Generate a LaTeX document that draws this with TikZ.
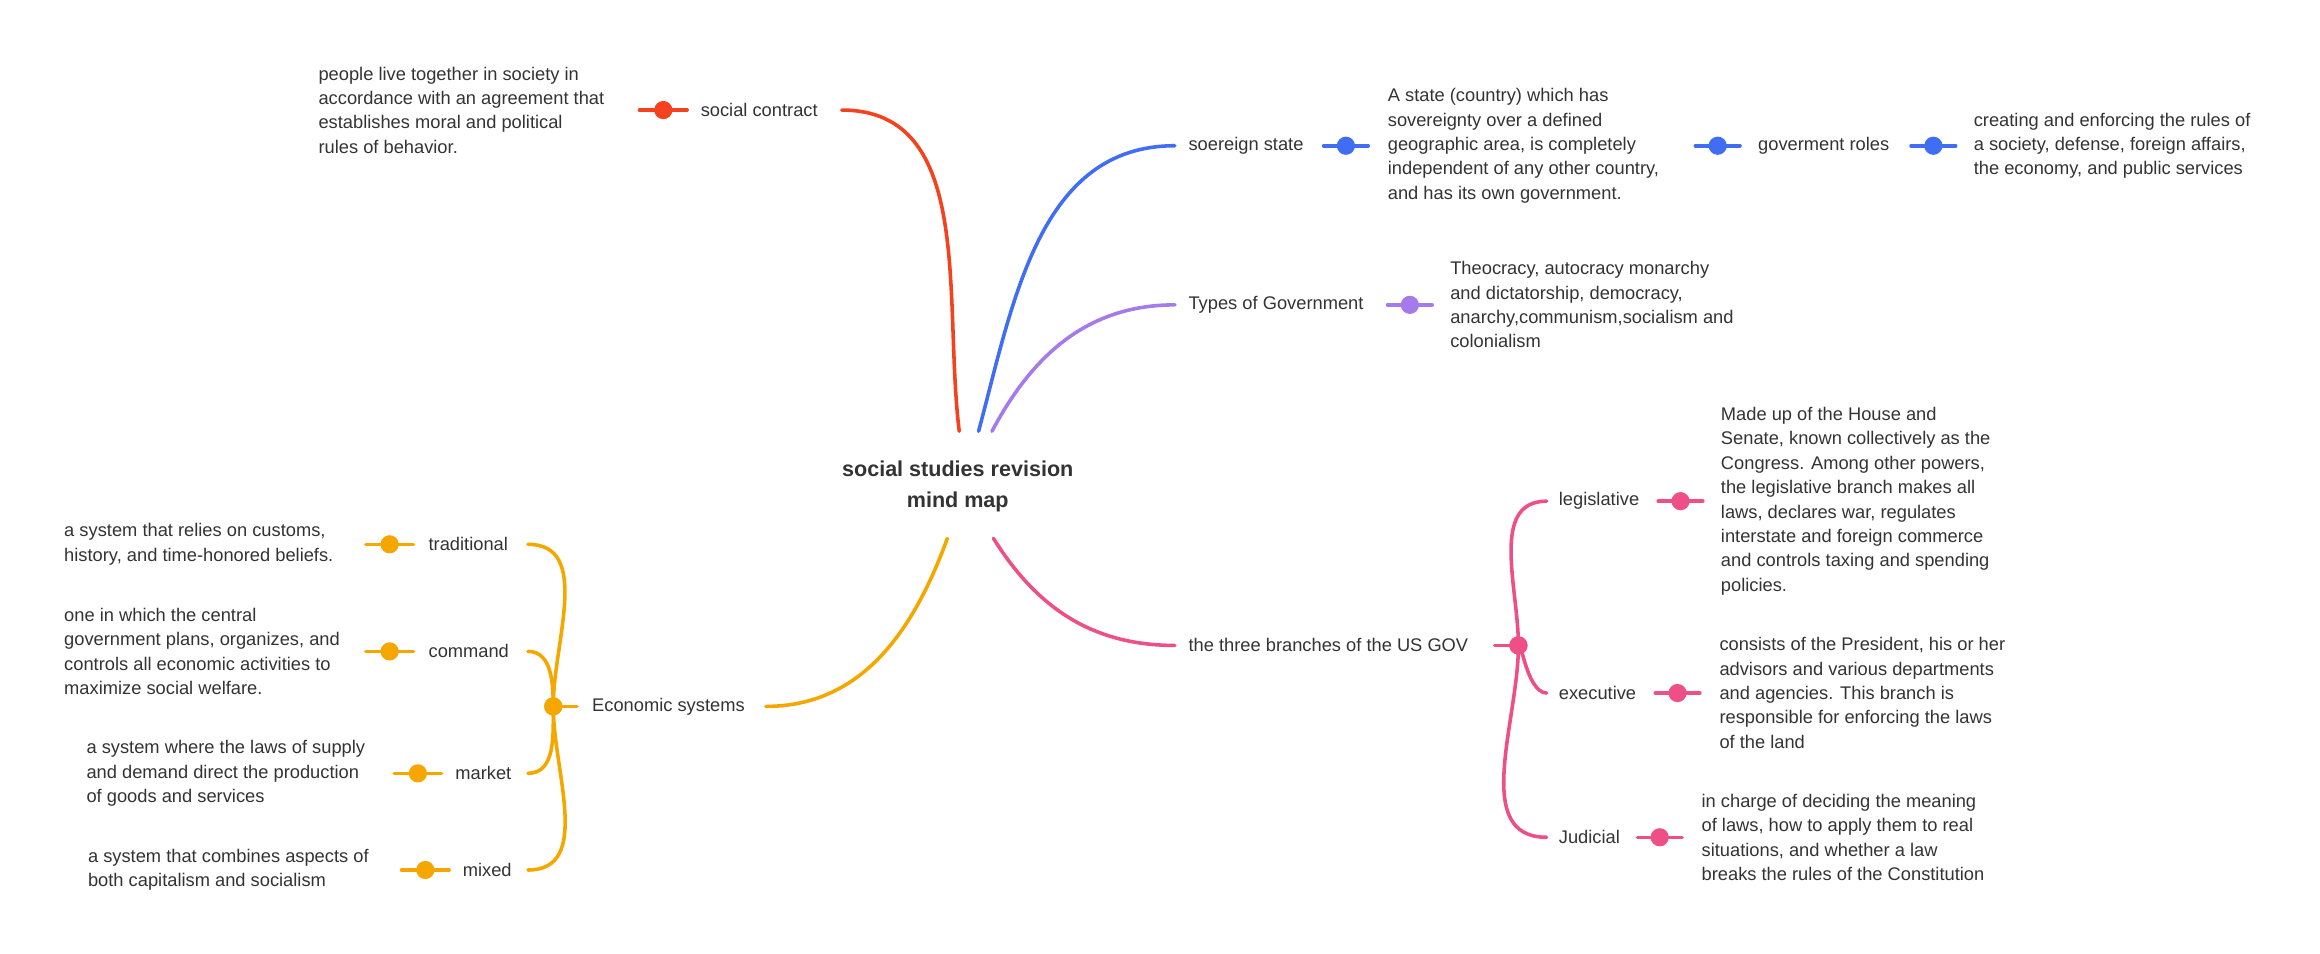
\documentclass[tikz,border=0pt]{standalone}
\usepackage{fontspec}
\setmainfont{Liberation Sans}
\definecolor{cred}{HTML}{F4421E}
\definecolor{cblue}{HTML}{3F6DF4}
\definecolor{cpurp}{HTML}{A57AEA}
\definecolor{cpink}{HTML}{EE4F87}
\definecolor{corg}{HTML}{F5A700}
\definecolor{ctxt}{HTML}{333333}
\begin{document}
\begin{tikzpicture}[x=1pt,y=1pt,
  every node/.style={text=ctxt,font=\fontsize{12.3}{16.4}\selectfont,inner sep=0pt},
  lab/.style={anchor=west},
  desc/.style={align=left},
  br/.style={line width=2.4pt,line cap=round},
  dot/.style={circle,draw,line width=2.2pt,fill=white,minimum size=10pt,inner sep=0pt}]
\path[use as bounding box] (0,0) rectangle (1560,641);
\node[font=\bfseries\fontsize{14.5}{21}\selectfont,align=center] (c) at (644,314) {social studies revision\\mind map};
% social contract
\coordinate (s1) at (645,351);
\node[lab] (sc) at (471,567) {social contract};
\coordinate (e1) at (566,567);
\draw[br,cred] (s1) to[out=97,in=0] (e1);
\coordinate (l1a) at (430,567); \coordinate (l1b) at (462,567);
\draw[br,cred] (l1a)--(l1b);
\node[dot,cred] (d1) at (446,567) {};
\node[desc,anchor=west] (t1) at (214,567) {people live together in society in\\accordance with an agreement that\\establishes moral and political\\rules of behavior.};
% sovereign
\coordinate (s2) at (658,351);
\coordinate (e2) at (790,543);
\node[lab] (ss) at (799,543) {soereign state};
\draw[br,cblue] (s2) to[out=75,in=180] (e2);
\coordinate (l2a) at (890,543); \coordinate (l2b) at (920,543);
\draw[br,cblue] (l2a)--(l2b);
\node[dot,cblue] (d2) at (905,543) {};
\node[desc,anchor=west] (t2) at (933,543) {A state (country) which has\\sovereignty over a defined\\geographic area, is completely\\independent of any other country,\\and has its own government.};
\coordinate (l3a) at (1140,543); \coordinate (l3b) at (1170,543);
\draw[br,cblue] (l3a)--(l3b);
\node[dot,cblue] (d3) at (1155,543) {};
\node[lab] (gr) at (1182,543) {goverment roles};
\coordinate (l4a) at (1285,543); \coordinate (l4b) at (1315,543);
\draw[br,cblue] (l4a)--(l4b);
\node[dot,cblue] (d4) at (1300,543) {};
\node[desc,anchor=west] (t4) at (1327,543) {creating and enforcing the rules of\\a society, defense, foreign affairs,\\the economy, and public services};
% types
\coordinate (s3) at (667,351);
\coordinate (e3) at (790,436);
\node[lab] (tg) at (799,436) {Types of Government};
\draw[br,cpurp] (s3) to[out=62,in=180] (e3);
\coordinate (l5a) at (933,436); \coordinate (l5b) at (963,436);
\draw[br,cpurp] (l5a)--(l5b);
\node[dot,cpurp] (d5) at (948,436) {};
\node[desc,anchor=west] (t5) at (975,436) {Theocracy, autocracy monarchy\\and dictatorship, democracy,\\anarchy,communism,socialism and\\colonialism};
% branches
\coordinate (s4) at (668,279);
\coordinate (e4) at (790,207);
\node[lab] (tb) at (799,207) {the three branches of the US GOV};
\draw[br,cpink] (s4) to[out=-58,in=180] (e4);
\coordinate (l6a) at (1005,207);
\node[dot,cpink] (d6) at (1021,207) {};
\draw[br,cpink] (l6a)--(d6.west);
\coordinate (g1) at (1040,304); \coordinate (g2) at (1040,175); \coordinate (g3) at (1040,78);
\draw[br,cpink] (d6.center) to[out=90,in=180] (g1);
\draw[br,cpink] (d6.center) to[out=90,in=180] (g2);
\draw[br,cpink] (d6.center) to[out=-90,in=180] (g3);
\node[dot,cpink] (d6b) at (1021,207) {};
\node[lab] (lg) at (1048,304) {legislative};
\node[lab] (ex) at (1048,175) {executive};
\node[lab] (ju) at (1048,78) {Judicial};
\coordinate (l7a) at (1115,304); \coordinate (l7b) at (1145,304);
\draw[br,cpink] (l7a)--(l7b); \node[dot,cpink] (d7) at (1130,304) {};
\coordinate (l8a) at (1113,175); \coordinate (l8b) at (1143,175);
\draw[br,cpink] (l8a)--(l8b); \node[dot,cpink] (d8) at (1128,175) {};
\coordinate (l9a) at (1101,78); \coordinate (l9b) at (1131,78);
\draw[br,cpink] (l9a)--(l9b); \node[dot,cpink] (d9) at (1116,78) {};
\node[desc,anchor=west] (t7) at (1157,304) {Made up of the House and\\Senate, known collectively as the\\Congress. Among other powers,\\the legislative branch makes all\\laws, declares war, regulates\\interstate and foreign commerce\\and controls taxing and spending\\policies.};
\node[desc,anchor=west] (t8) at (1156,175) {consists of the President, his or her\\advisors and various departments\\and agencies. This branch is\\responsible for enforcing the laws\\of the land};
\node[desc,anchor=west] (t9) at (1144,78) {in charge of deciding the meaning\\of laws, how to apply them to real\\situations, and whether a law\\breaks the rules of the Constitution};
% economic
\coordinate (s5) at (637,279);
\coordinate (e5) at (515,166);
\node[lab] (es) at (398,166) {Economic systems};
\draw[br,corg] (s5) to[out=-110,in=0] (e5);
\coordinate (la) at (388,166);
\coordinate (h1) at (355,275); \coordinate (h2) at (355,203); \coordinate (h3) at (355,121); \coordinate (h4) at (355,56);
\node[dot,corg] (dc) at (372,166) {};
\draw[br,corg] (la)--(dc.center);
\draw[br,corg] (dc.center) to[out=90,in=0] (h1);
\draw[br,corg] (dc.center) to[out=90,in=0] (h2);
\draw[br,corg] (dc.center) to[out=-90,in=0] (h3);
\draw[br,corg] (dc.center) to[out=-90,in=0] (h4);
\node[dot,corg] (dc2) at (372,166) {};
\node[lab] (tr) at (288,275) {traditional};
\node[lab] (co) at (288,203) {command};
\node[lab] (ma) at (306,121) {market};
\node[lab] (mi) at (311,56) {mixed};
\coordinate (ma1) at (246,275); \coordinate (mb1) at (278,275);
\draw[br,corg] (ma1)--(mb1); \node[dot,corg] (o1) at (262,275) {};
\coordinate (ma2) at (246,203); \coordinate (mb2) at (278,203);
\draw[br,corg] (ma2)--(mb2); \node[dot,corg] (o2) at (262,203) {};
\coordinate (ma3) at (265,121); \coordinate (mb3) at (297,121);
\draw[br,corg] (ma3)--(mb3); \node[dot,corg] (o3) at (281,121) {};
\coordinate (ma4) at (270,56); \coordinate (mb4) at (302,56);
\draw[br,corg] (ma4)--(mb4); \node[dot,corg] (o4) at (286,56) {};
\node[desc,anchor=west] (u1) at (43,275) {a system that relies on customs,\\history, and time-honored beliefs.};
\node[desc,anchor=west] (u2) at (43,203) {one in which the central\\government plans, organizes, and\\controls all economic activities to\\maximize social welfare.};
\node[desc,anchor=west] (u3) at (58,121) {a system where the laws of supply\\and demand direct the production\\of goods and services};
\node[desc,anchor=west] (u4) at (59,56) {a system that combines aspects of\\both capitalism and socialism};
\end{tikzpicture}
\end{document}
